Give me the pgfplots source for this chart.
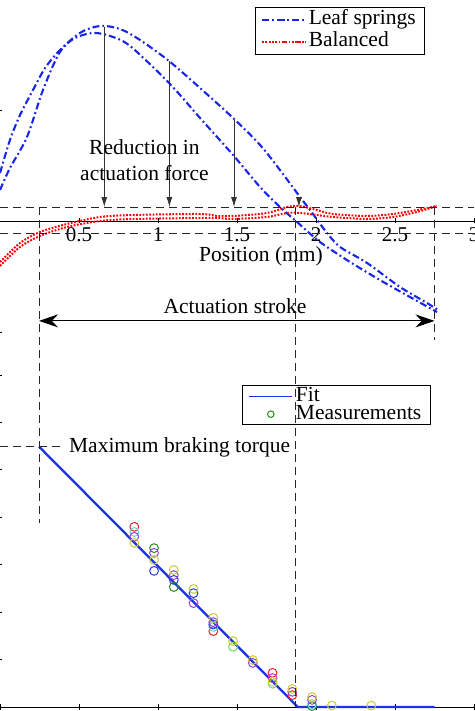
\documentclass[border=0pt]{standalone}
\usepackage{fontspec}
\setmainfont{Liberation Serif}
\usepackage{pgfplots}
\pgfplotsset{compat=1.18}
\usetikzlibrary{arrows.meta}

\definecolor{leafblue}{rgb}{0.1,0.15,0.9}
\definecolor{fitblue}{rgb}{0.1,0.2,0.9}
\definecolor{mgreen}{rgb}{0.15,0.55,0.1}
\definecolor{mlgreen}{rgb}{0.45,0.85,0.35}
\definecolor{mred}{rgb}{0.9,0.15,0.15}
\definecolor{mcyan}{rgb}{0.35,0.85,0.85}
\definecolor{mpurple}{rgb}{0.6,0.25,0.85}
\definecolor{myellow}{rgb}{0.8,0.8,0.2}
\definecolor{mblue}{rgb}{0.15,0.25,0.9}

\tikzset{
  dsh/.style={black!85, line width=0.9pt, dash pattern=on 8pt off 5pt},
  red arrow/.style={black!80, line width=0.9pt, -{Latex[length=10pt,width=6pt]}},
}

\pgfplotsset{
  base/.style={
    scale only axis, width=474pt, xmin=0, xmax=3,
    enlargelimits=false, clip=false,
    tick align=inside, major tick length=5pt,
    tick style={black, line width=0.8pt},
    /pgf/number format/assume math mode=true,
    tick label style={font=\fontsize{21}{24}\selectfont},
    legend cell align=left,
    legend image code/.code={\draw[mark repeat=2,mark phase=2,#1,line width=1.3pt,mark size=3.3pt]
      plot coordinates {(0pt,0pt) (21.5pt,0pt) (43pt,0pt)};},
    legend style={font=\fontsize{21.5}{24}\selectfont, draw=black, line width=0.9pt,
      inner xsep=6pt, column sep=0pt,
      nodes={inner xsep=3pt, inner ysep=0pt, text height=15pt, text depth=5pt}},
  },
  leaf/.style={color=leafblue, line width=2.1pt, dash pattern=on 7pt off 3pt on 1.8pt off 3pt, smooth},
  bal/.style={color=red, line width=2pt, dash pattern=on 1.8pt off 1.5pt, smooth},
  meas/.style={only marks, mark=o, mark size=4.4pt, mark options={line width=1pt, solid}},
}

\begin{document}
\begin{tikzpicture}[font=\fontsize{21.5}{26}\selectfont]

% force vs position
\begin{axis}[base,
  at={(0pt,268pt)}, anchor=south west, height=444pt,
  ymin=-2, ymax=2,
  axis x line=middle, axis y line=left,
  axis line style={-, line width=0.9pt},
  y axis line style={draw=none},
  xtick={0.5,1,1.5,2,2.5,3},
  ytick={-1,0,1}, yticklabels={},
  xticklabel style={yshift=-1pt},
  legend style={at={(0.538,0.982)}, anchor=north west, row sep=2pt, inner ysep=2.5pt},
]
\addplot[leaf] coordinates {
  (0,0.279) (0.063,0.477) (0.171,0.757) (0.272,1.180) (0.380,1.523)
  (0.506,1.694) (0.633,1.757) (0.759,1.730) (0.886,1.631) (1.070,1.441)
  (1.266,1.198) (1.475,0.928) (1.646,0.685) (1.772,0.459) (1.899,0.216)
  (1.962,0.099) (2.013,0) (2.070,-0.108) (2.152,-0.234) (2.323,-0.378)
  (2.532,-0.595) (2.703,-0.739) (2.772,-0.802)
};
\addlegendentry{Leaf springs}
\addplot[bal] coordinates {
  (0,-0.369) (0.127,-0.198) (0.253,-0.099) (0.424,-0.027) (0.633,0.036)
  (0.842,0.054) (1.266,0.063) (1.373,0.045) (1.475,0.045) (1.690,0.072)
  (1.816,0.126) (1.899,0.135) (2.006,0.099) (2.108,0.063) (2.323,0.045)
  (2.487,0.063) (2.639,0.099) (2.766,0.135)
};
\addlegendentry{Balanced}
\addplot[leaf, forget plot] coordinates {
  (0,0.432) (0.063,0.730) (0.127,0.955) (0.209,1.180) (0.285,1.378)
  (0.380,1.541) (0.475,1.649) (0.589,1.694) (0.696,1.667) (0.823,1.577)
  (1.070,1.243) (1.266,0.928) (1.475,0.595) (1.646,0.306) (1.772,0.126)
  (1.880,-0.009) (2.025,-0.189) (2.215,-0.369) (2.405,-0.532) (2.595,-0.685)
  (2.766,-0.820)
};
\addplot[bal, forget plot] coordinates {
  (0,-0.405) (0.127,-0.234) (0.253,-0.135) (0.424,-0.054) (0.633,0)
  (0.842,0.018) (1.266,0.027) (1.373,0.027) (1.475,0.018) (1.690,0.036)
  (1.816,0.072) (1.899,0.072) (2.006,0.054) (2.108,0.036) (2.323,0.018)
  (2.487,0.036) (2.639,0.081) (2.766,0.135)
};
\draw[dsh] (axis cs:0,0.126) -- (axis cs:3,0.126);
\draw[dsh] (axis cs:0,-0.108) -- (axis cs:3,-0.108);
\draw[dsh] (axis cs:2.75,0.126) -- (axis cs:2.75,-1.07);
\draw[red arrow] (axis cs:0.660,1.748) -- (axis cs:0.660,0.126);
\draw[red arrow] (axis cs:1.072,1.441) -- (axis cs:1.072,0.126);
\draw[red arrow] (axis cs:1.481,0.910) -- (axis cs:1.481,0.126);
\draw[red arrow] (axis cs:1.892,0.216) -- (axis cs:1.892,0.126);
\draw[black, line width=0.9pt, {Stealth[length=19pt,width=13pt]}-{Stealth[length=19pt,width=13pt]}]
  (axis cs:0.247,-0.90) -- (axis cs:2.75,-0.90);
\node at (axis cs:0.914,0.55) [align=center] {Reduction in\\actuation force};
\node at (axis cs:1.652,-0.318) {Position (mm)};
\node at (axis cs:1.487,-0.766) {Actuation stroke};
\coordinate (v1t) at (axis cs:0.247,0.126);
\coordinate (v2t) at (axis cs:1.87,0.126);
\end{axis}

% braking torque vs position
\begin{axis}[base,
  at={(0pt,4pt)}, anchor=south west, height=332pt,
  ymin=0, ymax=7,
  axis lines=left,
  axis line style={-, line width=1pt},
  xtick={0,0.5,1,1.5,2,2.5,3}, xticklabels={},
  ytick={0,1,2,3,4,5,6,7}, yticklabels={},
  legend style={at={(0.511,0.970)}, anchor=north west, row sep=-0.5pt, inner ysep=1.5pt,
    nodes={inner xsep=3pt, inner ysep=0pt, text height=14.5pt, text depth=4pt}},
]
\addplot[color=fitblue, draw=fitblue, line width=2.3pt] coordinates {(0.247,5.49) (1.885,0) (2.75,0)};
\addlegendentry{Fit}
\addplot[meas, color=mgreen] coordinates {(0.975,3.35) (1.1,2.53) (1.975,0.02)};
\addlegendentry{Measurements}
\addplot[meas, color=mred] coordinates {(0.85,3.80) (1.35,1.60) (1.725,0.72) (1.85,0.25)};
\addplot[meas, color=mcyan] coordinates {(0.85,3.69) (1.35,1.69) (1.975,0.06)};
\addplot[meas, color=mblue] coordinates {(0.975,2.87) (1.1,2.68) (1.225,2.40) (1.35,1.74)};
\addplot[meas, color=mlgreen] coordinates {(1.475,1.27) (1.725,0.49)};
\addplot[meas, color=mpurple] coordinates {
  (0.85,3.59) (0.975,3.25) (1.1,2.78) (1.225,2.19) (1.35,1.79)
  (1.6,0.93) (1.725,0.61) (1.85,0.32) (1.975,0.15)
};
\addplot[meas, color=myellow] coordinates {
  (0.85,3.46) (0.975,3.10) (1.1,2.89) (1.225,2.49) (1.35,1.88) (1.475,1.39)
  (1.6,0.99) (1.725,0.53) (1.85,0.38) (1.975,0.21) (2.1,0.03) (2.35,0.03)
};
\draw[dsh] (axis cs:0,5.49) -- (axis cs:0.39,5.49);
\node[anchor=west, yshift=-1pt] at (axis cs:0.415,5.49) {Maximum braking torque};
\coordinate (v1b) at (axis cs:0.247,3.88);
\coordinate (v2b) at (axis cs:1.87,0);
\end{axis}

\draw[dsh] (v1t) -- (v1b);
\draw[dsh] (v2t) -- (v2b);

\pgfresetboundingbox
\path[use as bounding box] (0pt,0pt) rectangle (474pt,711pt);
\end{tikzpicture}
\end{document}
